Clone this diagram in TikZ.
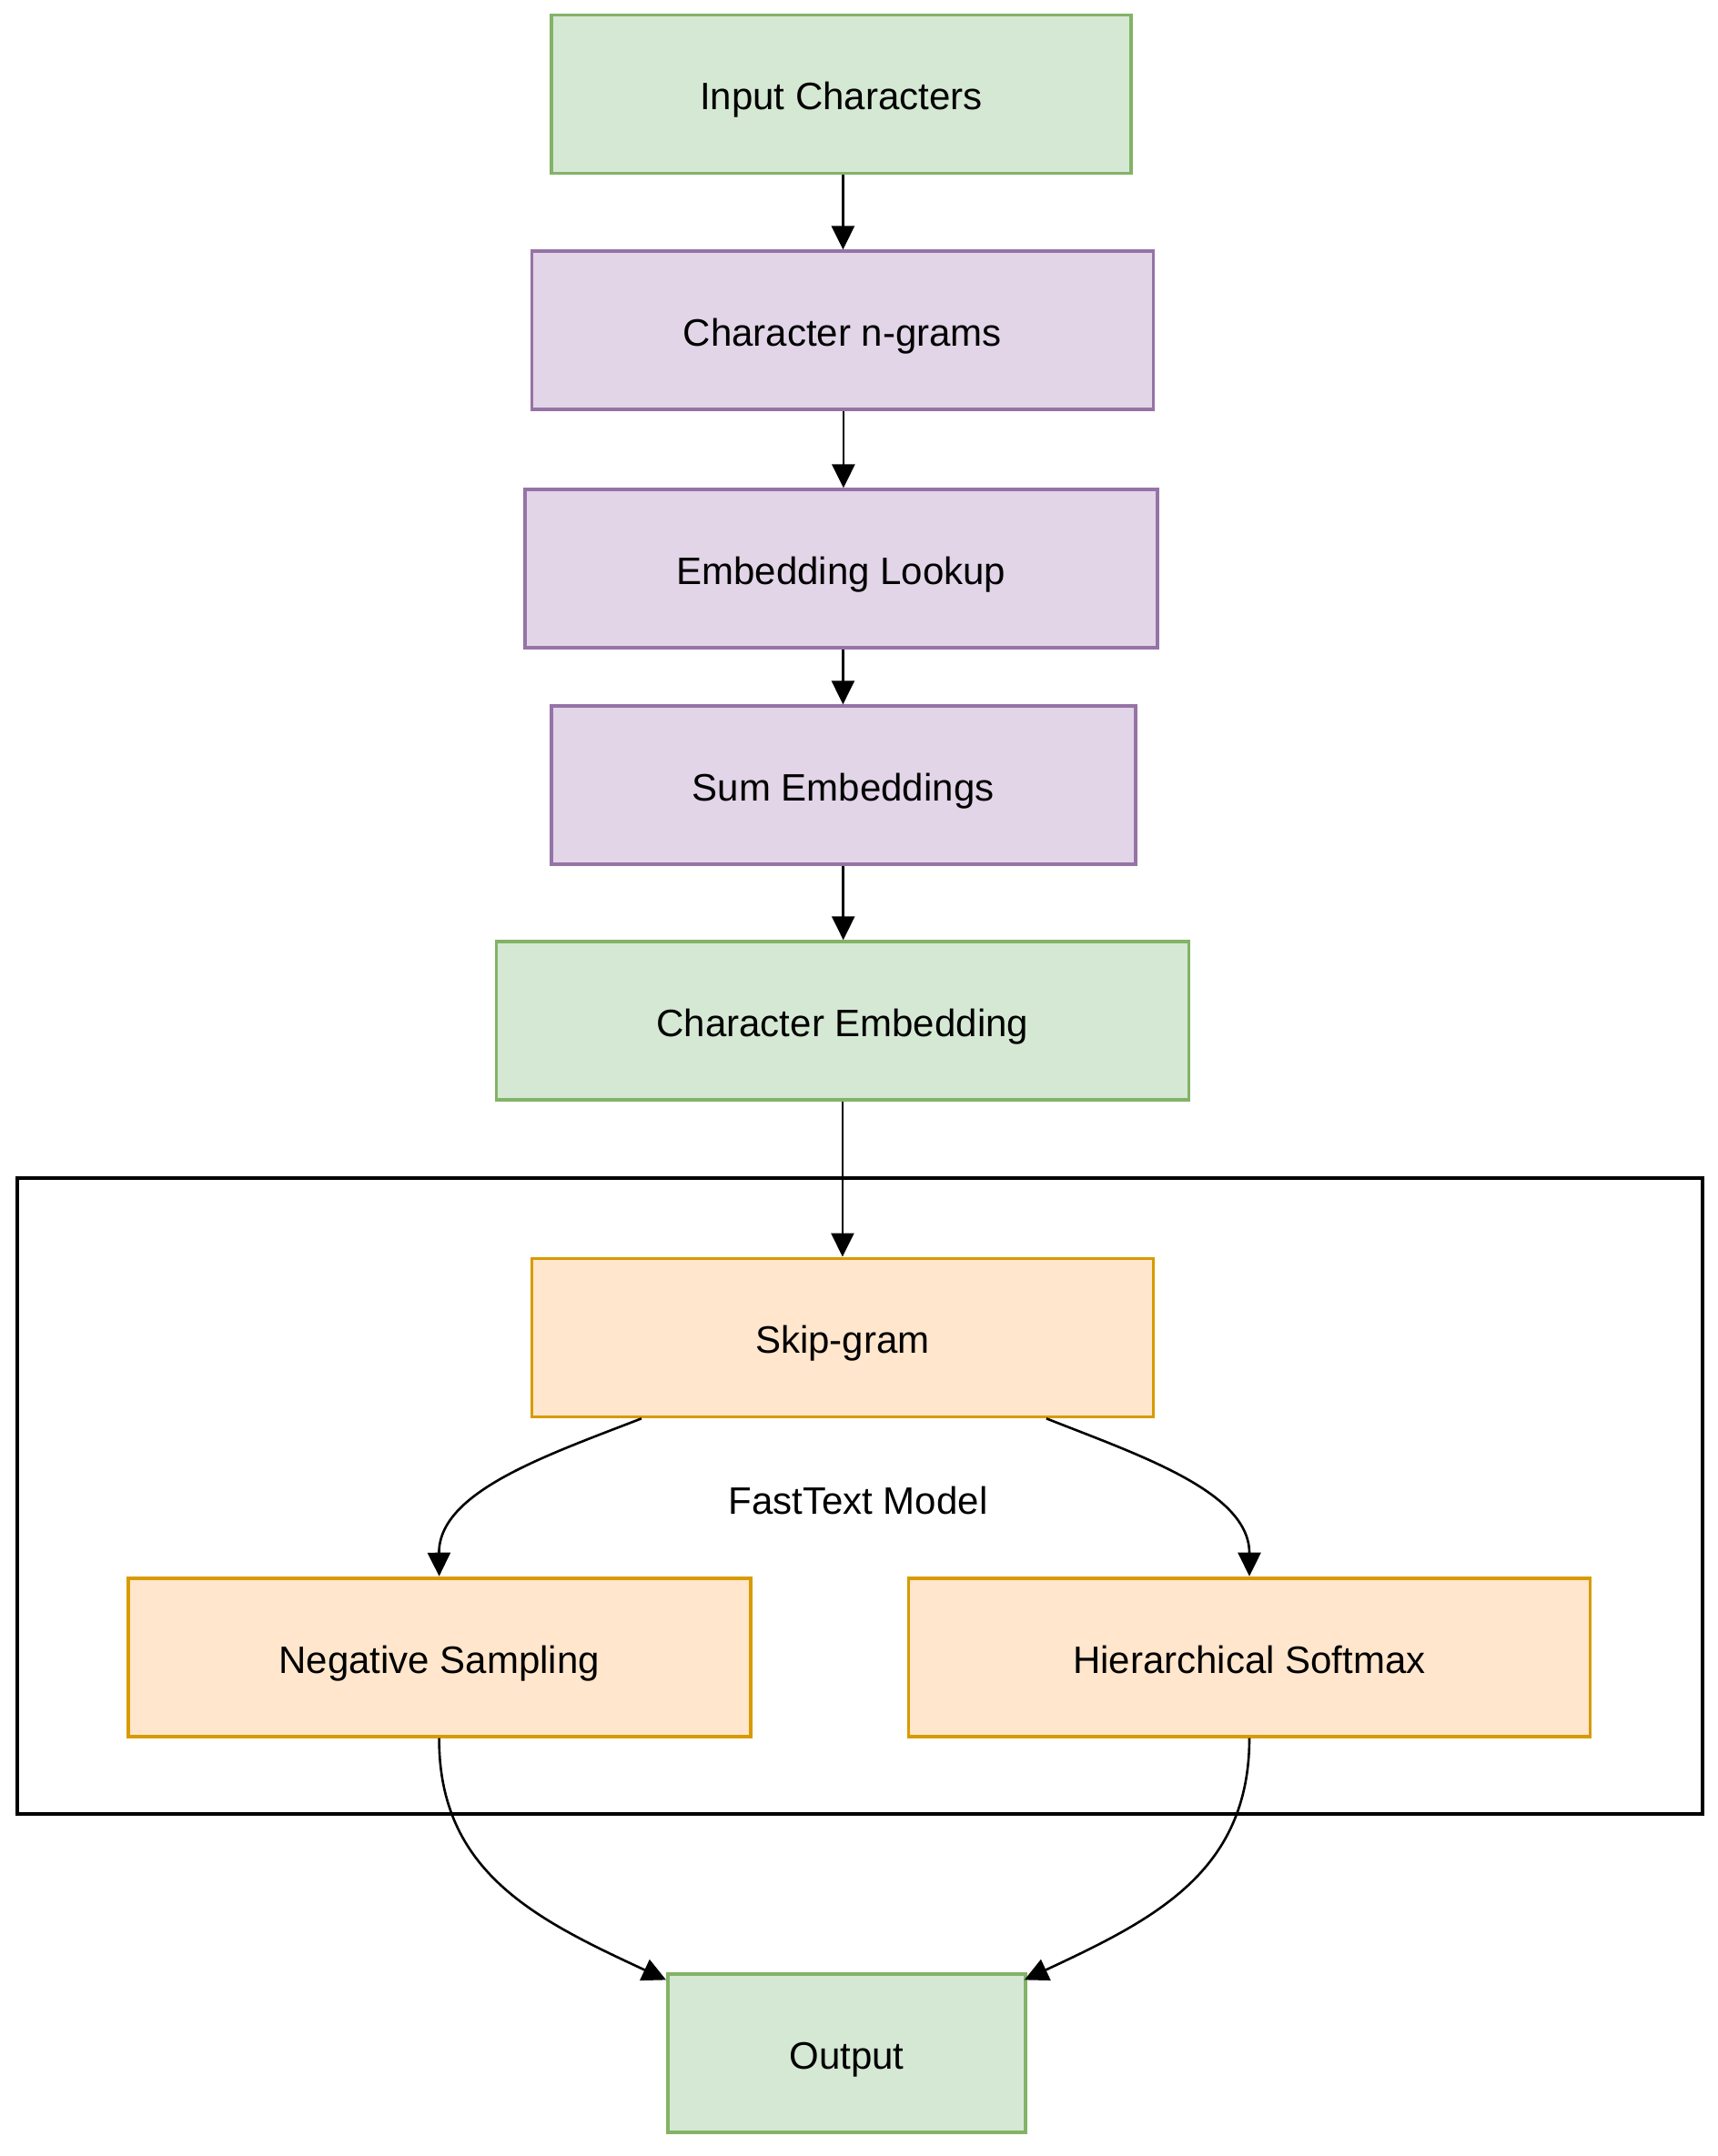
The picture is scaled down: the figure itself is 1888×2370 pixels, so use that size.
\documentclass[tikz,border=0pt]{standalone}
\usepackage{fontspec}
\setmainfont{Liberation Sans}
\usetikzlibrary{arrows.meta}
\definecolor{gfill}{HTML}{D5E8D4}
\definecolor{gdraw}{HTML}{82B366}
\definecolor{pfill}{HTML}{E1D5E7}
\definecolor{pdraw}{HTML}{9673A6}
\definecolor{ofill}{HTML}{FFE6CC}
\definecolor{odraw}{HTML}{D79B00}
\tikzset{
  box/.style={rectangle, line width=1.9pt, inner sep=0pt, minimum height=87pt,
    text height=17.4pt, text depth=0pt,
    font=\fontsize{21}{25}\selectfont},
  greenbox/.style={box, fill=gfill, draw=gdraw},
  purplebox/.style={box, fill=pfill, draw=pdraw},
  orangebox/.style={box, fill=ofill, draw=odraw},
  conn/.style={line width=1.3pt, -{Triangle[length=13pt,width=12.5pt]}},
  framebox/.style={rectangle, draw=black, line width=2.3pt, inner sep=0pt},
  lbl/.style={font=\fontsize{21}{25}\selectfont, inner sep=0pt, text height=15pt, text depth=0pt}
}
\begin{document}
\begin{tikzpicture}[x=0.5pt,y=-0.5pt]
\useasboundingbox (0,0) rectangle (1888,2370);
\fill[white] (0,0) rectangle (1888,2370);
% frame
\node[framebox, minimum width=926pt, minimum height=349.5pt] (frame) at (945,1644.5) {};
% nodes
\node[greenbox, minimum width=318.5pt] (in) at (924.4,103.5) {Input Characters};
\node[purplebox, minimum width=341.5pt] (ngram) at (925.9,363.3) {Character n-grams};
\node[purplebox, minimum width=347.5pt] (lookup) at (924.4,625.3) {Embedding Lookup};
\node[purplebox, minimum width=321pt] (sum) at (926.7,863.2) {Sum Embeddings};
\node[greenbox, minimum width=380.5pt] (charemb) at (925.9,1122.2) {Character Embedding};
\node[orangebox, minimum width=341.5pt] (skip) at (925.9,1470.4) {Skip-gram};
\node[orangebox, minimum width=342pt] (neg) at (482.6,1821.6) {Negative Sampling};
\node[orangebox, minimum width=374.5pt] (hier) at (1373,1821.6) {Hierarchical Softmax};
\node[greenbox, minimum width=196.5pt] (out) at (930.4,2257.3) {Output};
\node[lbl] (ftlabel) at (943,1649) {FastText Model};
% straight connectors
\draw[conn] ([xshift=1pt]in.south) -- ([xshift=1pt]in.south |- ngram.north);
\draw[conn] ([xshift=0.5pt]ngram.south) -- ([xshift=0.5pt]ngram.south |- lookup.north);
\draw[conn] ([xshift=1pt]lookup.south) -- ([xshift=1pt]lookup.south |- sum.north);
\draw[conn] (sum.south) -- (sum.south |- charemb.north);
\draw[conn] (charemb.south) -- (charemb.south |- skip.north);
% curved connectors
\draw[conn] ([xshift=-110.5pt]skip.south) .. controls (600,1600) and (482,1640) .. (neg.north);
\draw[conn] ([xshift=112pt]skip.south) .. controls (1253,1600) and (1373,1640) .. (hier.north);
\draw[conn] (neg.south) .. controls (482,2058) and (589,2110) .. ([shift={(0,8)}]out.north west);
\draw[conn] (hier.south) .. controls (1373,2058) and (1268,2110) .. ([shift={(-3,8)}]out.north east);
\end{tikzpicture}
\end{document}
